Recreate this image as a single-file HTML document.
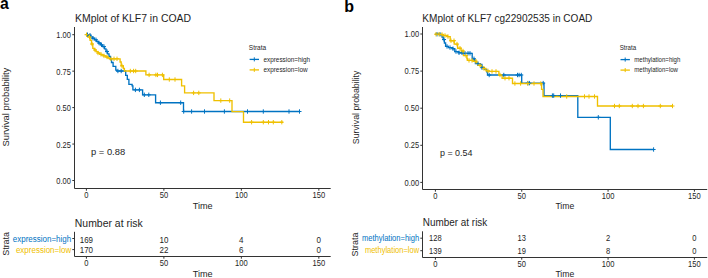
<!DOCTYPE html>
<html><head><meta charset="utf-8"><style>
html,body{margin:0;padding:0;background:#fff;width:708px;height:278px;overflow:hidden}
svg{display:block}
text{font-family:"Liberation Sans",sans-serif}
</style></head><body>
<svg width="708" height="278" viewBox="0 0 708 278">
<rect width="708" height="278" fill="#fff"/>
<text x="0" y="9.1" font-size="15.8" text-anchor="start" fill="#000000" font-weight="bold" >a</text><text x="344.3" y="11.9" font-size="16" text-anchor="start" fill="#000000" font-weight="bold" >b</text><path d="M74.5,27.0V188.5H330.7" stroke="#333333" stroke-width="1" fill="none"/><path d="M72.3,34.70H74.5" stroke="#333333" stroke-width="1"/><text transform="translate(70.9,38.30) scale(0.8800,1)" font-size="8.5" text-anchor="end" fill="#1e1e1e" font-weight="normal">1.00</text><path d="M72.3,71.15H74.5" stroke="#333333" stroke-width="1"/><text transform="translate(70.9,74.75) scale(0.8800,1)" font-size="8.5" text-anchor="end" fill="#1e1e1e" font-weight="normal">0.75</text><path d="M72.3,107.60H74.5" stroke="#333333" stroke-width="1"/><text transform="translate(70.9,111.20) scale(0.8800,1)" font-size="8.5" text-anchor="end" fill="#1e1e1e" font-weight="normal">0.50</text><path d="M72.3,144.05H74.5" stroke="#333333" stroke-width="1"/><text transform="translate(70.9,147.65) scale(0.8800,1)" font-size="8.5" text-anchor="end" fill="#1e1e1e" font-weight="normal">0.25</text><path d="M72.3,180.50H74.5" stroke="#333333" stroke-width="1"/><text transform="translate(70.9,184.10) scale(0.8800,1)" font-size="8.5" text-anchor="end" fill="#1e1e1e" font-weight="normal">0.00</text><path d="M86.40,188.5V190.7" stroke="#333333" stroke-width="1"/><text transform="translate(86.40,198.10) scale(0.8700,1)" font-size="8.7" text-anchor="middle" fill="#1e1e1e" font-weight="normal">0</text><path d="M163.88,188.5V190.7" stroke="#333333" stroke-width="1"/><text transform="translate(163.88,198.10) scale(0.8700,1)" font-size="8.7" text-anchor="middle" fill="#1e1e1e" font-weight="normal">50</text><path d="M241.35,188.5V190.7" stroke="#333333" stroke-width="1"/><text transform="translate(241.35,198.10) scale(0.8700,1)" font-size="8.7" text-anchor="middle" fill="#1e1e1e" font-weight="normal">100</text><path d="M318.83,188.5V190.7" stroke="#333333" stroke-width="1"/><text transform="translate(318.83,198.10) scale(0.8700,1)" font-size="8.7" text-anchor="middle" fill="#1e1e1e" font-weight="normal">150</text><text transform="translate(202.60,208.80) scale(0.9500,1)" font-size="9.6" text-anchor="middle" fill="#1e1e1e" font-weight="normal">Time</text><text transform="translate(75.0,21.6) scale(1.0350,1)" font-size="10.1" text-anchor="start" fill="#1e1e1e" font-weight="normal">KMplot of KLF7 in COAD</text><text x="0" y="0" font-size="9.0" text-anchor="middle" fill="#1e1e1e" font-weight="normal" transform="translate(9.3,107.10) rotate(-90) scale(1.045,1)">Survival probability</text><text x="91.0" y="155.1" font-size="9.4" text-anchor="start" fill="#1e1e1e" font-weight="normal" >p = 0.88</text><text x="248.8" y="49.6" font-size="6.5" text-anchor="start" fill="#1e1e1e" font-weight="normal" >Strata</text><path d="M249.60000000000002,59.40H259.0" stroke="#0073C2" stroke-width="1.3"/><path d="M254.3,57.30V61.40" stroke="#0073C2" stroke-width="1.0"/><text transform="translate(263.40000000000003,61.70) scale(0.9850,1)" font-size="6.5" text-anchor="start" fill="#1e1e1e" font-weight="normal">expression=high</text><path d="M249.60000000000002,69.90H259.0" stroke="#EFC000" stroke-width="1.3"/><path d="M254.3,67.80V71.90" stroke="#EFC000" stroke-width="1.0"/><text transform="translate(263.40000000000003,72.20) scale(0.9850,1)" font-size="6.5" text-anchor="start" fill="#1e1e1e" font-weight="normal">expression=low</text><path d="M86.40,34.70H88.50V35.20H90.50V36.80H92.50V38.20H94.50V39.80H96.50V41.50H98.50V43.00H100.50V44.80H102.50V46.60H104.50V48.80H106.00V51.50H107.50V53.80H109.00V56.40H110.50V59.50H111.50V62.50H113.10V66.30H115.80V70.10H116.90V71.00H125.00V71.00H125.70V75.40H127.30V79.40H128.90V84.30H132.10V85.90H132.90V89.90H142.60V89.90H142.60V94.80H155.60V94.80H155.60V102.70H183.50V102.70H183.50V111.50H299.80V111.50" stroke="#0073C2" stroke-width="1.35" fill="none" stroke-linejoin="miter"/><path d="M86.40,34.70H88.00V37.00H90.10V40.20H91.50V44.00H92.80V48.30H94.50V50.00H96.00V51.60H98.00V53.00H99.80V54.30H101.50V55.00H103.60V55.90H106.00V57.00H107.90V58.00H109.30V58.80H118.50V58.80H120.10V62.00H121.20V65.80H123.30V68.50H124.40V71.00H145.90V71.00H145.90V74.90H163.70V74.90H163.70V79.50H181.60V79.50H181.60V85.90H184.60V85.90H184.60V92.90H214.00V92.90H214.00V100.60H232.00V100.60H232.00V111.60H243.50V111.50H243.50V122.20H283.00V122.20" stroke="#EFC000" stroke-width="1.35" fill="none" stroke-linejoin="miter"/><path d="M87.50,32.50V36.90M85.50,34.70H89.50M90.00,33.00V37.40M88.00,35.20H92.00M93.00,36.00V40.40M91.00,38.20H95.00M96.00,37.60V42.00M94.00,39.80H98.00M99.00,40.80V45.20M97.00,43.00H101.00M101.50,42.60V47.00M99.50,44.80H103.50M104.00,44.40V48.80M102.00,46.60H106.00M107.00,49.30V53.70M105.00,51.50H109.00M117.90,68.80V73.20M115.90,71.00H119.90M121.20,68.80V73.20M119.20,71.00H123.20M135.40,87.70V92.10M133.40,89.90H137.40M139.40,87.70V92.10M137.40,89.90H141.40M144.30,92.60V97.00M142.30,94.80H146.30M148.80,92.60V97.00M146.80,94.80H150.80M160.40,100.50V104.90M158.40,102.70H162.40M180.70,100.50V104.90M178.70,102.70H182.70M183.70,109.30V113.70M181.70,111.50H185.70M191.60,109.30V113.70M189.60,111.50H193.60M204.50,109.30V113.70M202.50,111.50H206.50M224.40,109.30V113.70M222.40,111.50H226.40M247.50,109.30V113.70M245.50,111.50H249.50M263.30,109.30V113.70M261.30,111.50H265.30M289.00,109.30V113.70M287.00,111.50H291.00M299.50,109.30V113.70M297.50,111.50H301.50" stroke="#0073C2" stroke-width="1.0" fill="none"/><path d="M86.50,32.50V36.90M84.50,34.70H88.50M89.50,34.80V39.20M87.50,37.00H91.50M92.00,41.80V46.20M90.00,44.00H94.00M95.00,47.80V52.20M93.00,50.00H97.00M98.00,50.80V55.20M96.00,53.00H100.00M101.00,52.10V56.50M99.00,54.30H103.00M104.00,53.70V58.10M102.00,55.90H106.00M107.00,54.80V59.20M105.00,57.00H109.00M111.00,56.60V61.00M109.00,58.80H113.00M114.00,56.60V61.00M112.00,58.80H116.00M117.00,56.60V61.00M115.00,58.80H119.00M122.00,63.60V68.00M120.00,65.80H124.00M130.30,68.80V73.20M128.30,71.00H132.30M133.60,68.80V73.20M131.60,71.00H135.60M135.70,68.80V73.20M133.70,71.00H137.70M149.10,72.70V77.10M147.10,74.90H151.10M155.90,72.70V77.10M153.90,74.90H157.90M157.50,72.70V77.10M155.50,74.90H159.50M162.40,72.70V77.10M160.40,74.90H164.40M169.30,77.30V81.70M167.30,79.50H171.30M175.00,77.30V81.70M173.00,79.50H177.00M193.60,90.70V95.10M191.60,92.90H195.60M198.80,90.70V95.10M196.80,92.90H200.80M220.80,98.40V102.80M218.80,100.60H222.80M229.70,98.40V102.80M227.70,100.60H231.70M251.60,120.00V124.40M249.60,122.20H253.60M263.30,120.00V124.40M261.30,122.20H265.30M268.50,120.00V124.40M266.50,122.20H270.50M273.30,120.00V124.40M271.30,122.20H275.30M281.80,120.00V124.40M279.80,122.20H283.80" stroke="#EFC000" stroke-width="1.0" fill="none"/><text transform="translate(74.8,226.5) scale(1.0450,1)" font-size="10.0" text-anchor="start" fill="#1e1e1e" font-weight="normal">Number at risk</text><path d="M74.5,231.8V256.5H330.7" stroke="#333333" stroke-width="1" fill="none"/><path d="M72.3,238.50H74.5" stroke="#333333" stroke-width="1"/><text transform="translate(71.2,241.90) scale(0.9300,1)" font-size="8.6" text-anchor="end" fill="#0073C2" font-weight="normal">expression=high</text><text transform="translate(86.40,242.50) scale(0.9300,1)" font-size="8.6" text-anchor="middle" fill="#1e1e1e" font-weight="normal">169</text><text transform="translate(163.88,242.50) scale(0.9300,1)" font-size="8.6" text-anchor="middle" fill="#1e1e1e" font-weight="normal">10</text><text transform="translate(241.35,242.50) scale(0.9300,1)" font-size="8.6" text-anchor="middle" fill="#1e1e1e" font-weight="normal">4</text><text transform="translate(318.83,242.50) scale(0.9300,1)" font-size="8.6" text-anchor="middle" fill="#1e1e1e" font-weight="normal">0</text><path d="M72.3,249.60H74.5" stroke="#333333" stroke-width="1"/><text transform="translate(71.2,252.80) scale(0.9300,1)" font-size="8.6" text-anchor="end" fill="#EFC000" font-weight="normal">expression=low</text><text transform="translate(86.40,253.40) scale(0.9300,1)" font-size="8.6" text-anchor="middle" fill="#1e1e1e" font-weight="normal">170</text><text transform="translate(163.88,253.40) scale(0.9300,1)" font-size="8.6" text-anchor="middle" fill="#1e1e1e" font-weight="normal">22</text><text transform="translate(241.35,253.40) scale(0.9300,1)" font-size="8.6" text-anchor="middle" fill="#1e1e1e" font-weight="normal">6</text><text transform="translate(318.83,253.40) scale(0.9300,1)" font-size="8.6" text-anchor="middle" fill="#1e1e1e" font-weight="normal">0</text><path d="M86.40,256.5V258.7" stroke="#333333" stroke-width="1"/><text transform="translate(86.40,266.40) scale(0.8700,1)" font-size="8.7" text-anchor="middle" fill="#1e1e1e" font-weight="normal">0</text><path d="M163.88,256.5V258.7" stroke="#333333" stroke-width="1"/><text transform="translate(163.88,266.40) scale(0.8700,1)" font-size="8.7" text-anchor="middle" fill="#1e1e1e" font-weight="normal">50</text><path d="M241.35,256.5V258.7" stroke="#333333" stroke-width="1"/><text transform="translate(241.35,266.40) scale(0.8700,1)" font-size="8.7" text-anchor="middle" fill="#1e1e1e" font-weight="normal">100</text><path d="M318.83,256.5V258.7" stroke="#333333" stroke-width="1"/><text transform="translate(318.83,266.40) scale(0.8700,1)" font-size="8.7" text-anchor="middle" fill="#1e1e1e" font-weight="normal">150</text><text transform="translate(202.60,276.90) scale(0.9500,1)" font-size="9.6" text-anchor="middle" fill="#1e1e1e" font-weight="normal">Time</text><text x="0" y="0" font-size="9.6" text-anchor="middle" fill="#1e1e1e" font-weight="normal" transform="translate(9.3,243.9) rotate(-90) scale(0.93,1)">Strata</text><path d="M422.5,27.0V189.5H707.2" stroke="#333333" stroke-width="1" fill="none"/><path d="M420.3,34.00H422.5" stroke="#333333" stroke-width="1"/><text transform="translate(419.2,37.10) scale(0.8835,1)" font-size="8.5" text-anchor="end" fill="#1e1e1e" font-weight="normal">1.00</text><path d="M420.3,71.10H422.5" stroke="#333333" stroke-width="1"/><text transform="translate(419.2,74.20) scale(0.8835,1)" font-size="8.5" text-anchor="end" fill="#1e1e1e" font-weight="normal">0.75</text><path d="M420.3,108.20H422.5" stroke="#333333" stroke-width="1"/><text transform="translate(419.2,111.30) scale(0.8835,1)" font-size="8.5" text-anchor="end" fill="#1e1e1e" font-weight="normal">0.50</text><path d="M420.3,145.30H422.5" stroke="#333333" stroke-width="1"/><text transform="translate(419.2,148.40) scale(0.8835,1)" font-size="8.5" text-anchor="end" fill="#1e1e1e" font-weight="normal">0.25</text><path d="M420.3,182.40H422.5" stroke="#333333" stroke-width="1"/><text transform="translate(419.2,185.50) scale(0.8835,1)" font-size="8.5" text-anchor="end" fill="#1e1e1e" font-weight="normal">0.00</text><path d="M435.40,189.5V191.7" stroke="#333333" stroke-width="1"/><text transform="translate(435.40,199.10) scale(0.8692,1)" font-size="8.7" text-anchor="middle" fill="#1e1e1e" font-weight="normal">0</text><path d="M521.74,189.5V191.7" stroke="#333333" stroke-width="1"/><text transform="translate(521.74,199.10) scale(0.8692,1)" font-size="8.7" text-anchor="middle" fill="#1e1e1e" font-weight="normal">50</text><path d="M608.07,189.5V191.7" stroke="#333333" stroke-width="1"/><text transform="translate(608.07,199.10) scale(0.8692,1)" font-size="8.7" text-anchor="middle" fill="#1e1e1e" font-weight="normal">100</text><path d="M694.40,189.5V191.7" stroke="#333333" stroke-width="1"/><text transform="translate(694.40,199.10) scale(0.8692,1)" font-size="8.7" text-anchor="middle" fill="#1e1e1e" font-weight="normal">150</text><text transform="translate(564.85,208.50) scale(0.9025,1)" font-size="9.6" text-anchor="middle" fill="#1e1e1e" font-weight="normal">Time</text><text transform="translate(422.3,21.6) scale(0.9975,1)" font-size="10.1" text-anchor="start" fill="#1e1e1e" font-weight="normal">KMplot of KLF7 cg22902535 in COAD</text><text x="0" y="0" font-size="9.0" text-anchor="middle" fill="#1e1e1e" font-weight="normal" transform="translate(358.5,107.40) rotate(-90) scale(0.975,1)">Survival probability</text><text transform="translate(440.0,155.6) scale(0.9500,1)" font-size="9.4" text-anchor="start" fill="#1e1e1e" font-weight="normal">p = 0.54</text><text transform="translate(619.7,49.8) scale(0.9500,1)" font-size="6.5" text-anchor="start" fill="#1e1e1e" font-weight="normal">Strata</text><path d="M620.5,59.60H629.9000000000001" stroke="#0073C2" stroke-width="1.3"/><path d="M625.2,57.50V61.60" stroke="#0073C2" stroke-width="1.0"/><text transform="translate(634.3000000000001,61.90) scale(0.9357,1)" font-size="6.5" text-anchor="start" fill="#1e1e1e" font-weight="normal">methylation=high</text><path d="M620.5,70.10H629.9000000000001" stroke="#EFC000" stroke-width="1.3"/><path d="M625.2,68.00V72.10" stroke="#EFC000" stroke-width="1.0"/><text transform="translate(634.3000000000001,72.40) scale(0.9357,1)" font-size="6.5" text-anchor="start" fill="#1e1e1e" font-weight="normal">methylation=low</text><path d="M435.50,34.20H438.00V34.30H440.40V34.60H442.00V37.00H443.20V39.50H444.40V43.00H445.60V46.40H448.40V47.60H452.50V48.70H454.80V51.60H458.80V52.80H462.30V53.30H471.30V53.30H472.20V58.80H474.60V60.40H475.40V63.60H480.30V64.40H481.90V67.70H484.30V69.30H486.70V71.70H487.50V75.00H521.70V75.00H521.70V83.10H544.00V83.10H544.00V95.60H577.80V95.60H577.80V117.30H610.30V117.30H610.30V149.50H653.80V149.50" stroke="#0073C2" stroke-width="1.35" fill="none" stroke-linejoin="miter"/><path d="M435.50,34.20H439.20V34.50H443.00V35.50H447.30V36.60H450.20V40.70H454.20V44.10H457.60V48.20H461.10V51.00H463.40V55.60H466.90V58.50H467.30V60.40H473.00V61.20H476.20V62.80H477.80V65.30H481.10V66.90H483.50V68.50H485.90V70.90H489.20V71.40H498.10V71.40H498.90V75.00H502.10V78.20H512.50V78.20H512.50V83.50H541.60V83.50H541.60V89.30H543.00V89.30H543.00V96.50H597.50V96.50H597.50V106.00H672.90V106.00" stroke="#EFC000" stroke-width="1.35" fill="none" stroke-linejoin="miter"/><path d="M437.00,32.00V36.40M435.00,34.20H439.00M440.00,32.10V36.50M438.00,34.30H442.00M444.00,37.30V41.70M442.00,39.50H446.00M447.00,44.20V48.60M445.00,46.40H449.00M450.00,45.40V49.80M448.00,47.60H452.00M453.00,46.50V50.90M451.00,48.70H455.00M456.00,49.40V53.80M454.00,51.60H458.00M459.00,50.60V55.00M457.00,52.80H461.00M462.00,50.60V55.00M460.00,52.80H464.00M465.00,51.10V55.50M463.00,53.30H467.00M468.00,51.10V55.50M466.00,53.30H470.00M470.00,51.10V55.50M468.00,53.30H472.00M474.00,56.60V61.00M472.00,58.80H476.00M478.00,61.40V65.80M476.00,63.60H480.00M482.00,65.50V69.90M480.00,67.70H484.00M489.20,72.80V77.20M487.20,75.00H491.20M503.80,72.80V77.20M501.80,75.00H505.80M517.50,72.80V77.20M515.50,75.00H519.50M519.10,72.80V77.20M517.10,75.00H521.10M521.30,72.80V77.20M519.30,75.00H523.30M527.80,80.90V85.30M525.80,83.10H529.80M529.40,80.90V85.30M527.40,83.10H531.40M543.20,80.90V85.30M541.20,83.10H545.20M552.40,93.40V97.80M550.40,95.60H554.40M553.70,93.40V97.80M551.70,95.60H555.70M560.50,93.40V97.80M558.50,95.60H562.50M598.30,115.10V119.50M596.30,117.30H600.30M653.60,147.30V151.70M651.60,149.50H655.60" stroke="#0073C2" stroke-width="1.0" fill="none"/><path d="M436.00,32.00V36.40M434.00,34.20H438.00M439.00,32.00V36.40M437.00,34.20H441.00M442.00,32.30V36.70M440.00,34.50H444.00M445.00,33.30V37.70M443.00,35.50H447.00M448.00,34.40V38.80M446.00,36.60H450.00M451.00,38.50V42.90M449.00,40.70H453.00M454.00,38.50V42.90M452.00,40.70H456.00M457.00,41.90V46.30M455.00,44.10H459.00M460.00,46.00V50.40M458.00,48.20H462.00M463.00,48.80V53.20M461.00,51.00H465.00M466.00,53.40V57.80M464.00,55.60H468.00M469.00,58.20V62.60M467.00,60.40H471.00M472.00,58.20V62.60M470.00,60.40H474.00M476.00,59.00V63.40M474.00,61.20H478.00M480.00,63.10V67.50M478.00,65.30H482.00M484.00,66.30V70.70M482.00,68.50H486.00M488.00,68.70V73.10M486.00,70.90H490.00M492.00,69.20V73.60M490.00,71.40H494.00M496.00,69.20V73.60M494.00,71.40H498.00M500.00,72.80V77.20M498.00,75.00H502.00M505.00,76.00V80.40M503.00,78.20H507.00M509.00,76.00V80.40M507.00,78.20H511.00M514.90,81.30V85.70M512.90,83.50H516.90M520.60,81.30V85.70M518.60,83.50H522.60M527.80,81.30V85.70M525.80,83.50H529.80M534.00,81.30V85.70M532.00,83.50H536.00M540.80,81.30V85.70M538.80,83.50H542.80M566.70,94.30V98.70M564.70,96.50H568.70M584.50,94.30V98.70M582.50,96.50H586.50M589.00,94.30V98.70M587.00,96.50H591.00M594.50,94.30V98.70M592.50,96.50H596.50M614.50,103.80V108.20M612.50,106.00H616.50M619.30,103.80V108.20M617.30,106.00H621.30M632.30,103.80V108.20M630.30,106.00H634.30M638.00,103.80V108.20M636.00,106.00H640.00M643.40,103.80V108.20M641.40,106.00H645.40M660.30,103.80V108.20M658.30,106.00H662.30M672.50,103.80V108.20M670.50,106.00H674.50" stroke="#EFC000" stroke-width="1.0" fill="none"/><text transform="translate(422.8,226.0) scale(0.9927,1)" font-size="10.0" text-anchor="start" fill="#1e1e1e" font-weight="normal">Number at risk</text><path d="M422.5,231.3V257.5H707.2" stroke="#333333" stroke-width="1" fill="none"/><path d="M420.3,238.20H422.5" stroke="#333333" stroke-width="1"/><text transform="translate(419.2,240.70) scale(0.8797,1)" font-size="8.6" text-anchor="end" fill="#0073C2" font-weight="normal">methylation=high</text><text transform="translate(435.40,241.30) scale(0.8797,1)" font-size="8.6" text-anchor="middle" fill="#1e1e1e" font-weight="normal">128</text><text transform="translate(521.74,241.30) scale(0.8797,1)" font-size="8.6" text-anchor="middle" fill="#1e1e1e" font-weight="normal">13</text><text transform="translate(608.07,241.30) scale(0.8797,1)" font-size="8.6" text-anchor="middle" fill="#1e1e1e" font-weight="normal">2</text><text transform="translate(694.40,241.30) scale(0.8797,1)" font-size="8.6" text-anchor="middle" fill="#1e1e1e" font-weight="normal">0</text><path d="M420.3,250.70H422.5" stroke="#333333" stroke-width="1"/><text transform="translate(419.2,253.20) scale(0.8797,1)" font-size="8.6" text-anchor="end" fill="#EFC000" font-weight="normal">methylation=low</text><text transform="translate(435.40,253.80) scale(0.8797,1)" font-size="8.6" text-anchor="middle" fill="#1e1e1e" font-weight="normal">139</text><text transform="translate(521.74,253.80) scale(0.8797,1)" font-size="8.6" text-anchor="middle" fill="#1e1e1e" font-weight="normal">19</text><text transform="translate(608.07,253.80) scale(0.8797,1)" font-size="8.6" text-anchor="middle" fill="#1e1e1e" font-weight="normal">8</text><text transform="translate(694.40,253.80) scale(0.8797,1)" font-size="8.6" text-anchor="middle" fill="#1e1e1e" font-weight="normal">0</text><path d="M435.40,257.5V259.7" stroke="#333333" stroke-width="1"/><text transform="translate(435.40,266.50) scale(0.8692,1)" font-size="8.7" text-anchor="middle" fill="#1e1e1e" font-weight="normal">0</text><path d="M521.74,257.5V259.7" stroke="#333333" stroke-width="1"/><text transform="translate(521.74,266.50) scale(0.8692,1)" font-size="8.7" text-anchor="middle" fill="#1e1e1e" font-weight="normal">50</text><path d="M608.07,257.5V259.7" stroke="#333333" stroke-width="1"/><text transform="translate(608.07,266.50) scale(0.8692,1)" font-size="8.7" text-anchor="middle" fill="#1e1e1e" font-weight="normal">100</text><path d="M694.40,257.5V259.7" stroke="#333333" stroke-width="1"/><text transform="translate(694.40,266.50) scale(0.8692,1)" font-size="8.7" text-anchor="middle" fill="#1e1e1e" font-weight="normal">150</text><text transform="translate(564.85,277.10) scale(0.9025,1)" font-size="9.6" text-anchor="middle" fill="#1e1e1e" font-weight="normal">Time</text><text x="0" y="0" font-size="9.6" text-anchor="middle" fill="#1e1e1e" font-weight="normal" transform="translate(358.2,244.5) rotate(-90) scale(0.93,1)">Strata</text>
</svg>
</body></html>
